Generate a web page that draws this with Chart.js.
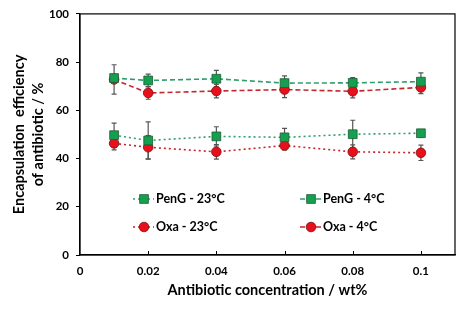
<!DOCTYPE html>
<html>
<head>
<meta charset="utf-8">
<script src="https://cdn.jsdelivr.net/npm/chart.js@4"></script>
<style>
  html, body { margin: 0; padding: 0; background: #fff; }
</style>
</head>
<body>
<canvas id="chart" width="474" height="335"></canvas>
<script>
// 데이터
const concentrations = [0.01, 0.02, 0.04, 0.06, 0.08, 0.1];
const penG23 = [49.7, 47.5, 49.2, 48.8, 50.1, 50.5];
const penG23Err = [5.0, 7.7, 4.0, 3.7, 5.8, 1.5];
const penG4 = [73.4, 72.4, 73.1, 71.3, 71.4, 71.9];
const penG4Err = [1.5, 2.6, 3.5, 3.0, 2.2, 3.6];
const oxa23 = [46.3, 44.7, 42.8, 45.4, 42.8, 42.4];
const oxa23Err = [2.7, 4.8, 3.0, 1.8, 2.9, 3.2];
const oxa4 = [72.8, 67.2, 68.0, 68.6, 67.9, 69.5];
const oxa4Err = [6.1, 2.6, 2.8, 3.3, 2.7, 2.6];
const seriesLabels = ['PenG - 23°C', 'PenG - 4°C', 'Oxa - 23°C', 'Oxa - 4°C'];
const xTicks = [0.02, 0.04, 0.06, 0.08, 0.1];

const FONT = 'Lato, "Open Sans", sans-serif';
const GREEN_FILL = '#14a04f';
const GREEN_EDGE = '#1d5c36';
const GREEN_LINE = '#2f9e6c';
const RED_FILL = '#e8111b';
const RED_EDGE = '#7c0a0a';
const RED_LINE = '#c4262c';

function toPoints(values) {
  return concentrations.map((x, i) => ({ x: x, y: values[i] }));
}

function makeSet(label, values, errs, isPenG, dotted) {
  return {
    label: label,
    data: toPoints(values),
    errors: errs,
    borderColor: isPenG ? GREEN_LINE : RED_LINE,
    borderWidth: 1.6,
    borderDash: dotted ? [2, 3] : [5, 3],
    pointStyle: isPenG ? 'rect' : 'circle',
    pointRadius: isPenG ? 6.2 : 4.8,
    pointBackgroundColor: isPenG ? GREEN_FILL : RED_FILL,
    pointBorderColor: isPenG ? GREEN_EDGE : RED_EDGE,
    pointBorderWidth: 0.8,
    fill: false,
    tension: 0
  };
}

// 에러바 그리기
const errorBars = {
  id: 'errorBars',
  beforeDatasetsDraw(chart) {
    const ctx = chart.ctx;
    const xs = chart.scales.x, ys = chart.scales.y;
    ctx.save();
    ctx.strokeStyle = '#555';
    ctx.lineWidth = 1.2;
    chart.data.datasets.forEach(ds => {
      ds.data.forEach((p, i) => {
        const e = ds.errors[i];
        const px = xs.getPixelForValue(p.x);
        const top = ys.getPixelForValue(p.y + e);
        const bot = ys.getPixelForValue(p.y - e);
        ctx.beginPath();
        ctx.moveTo(px, top); ctx.lineTo(px, bot);
        ctx.moveTo(px - 2.5, top); ctx.lineTo(px + 2.5, top);
        ctx.moveTo(px - 2.5, bot); ctx.lineTo(px + 2.5, bot);
        ctx.stroke();
      });
    });
    ctx.restore();
  }
};

// 테두리 상자
const frameBox = {
  id: 'frameBox',
  afterDatasetsDraw(chart) {
    const a = chart.chartArea;
    chart.ctx.save();
    chart.ctx.strokeStyle = '#000';
    chart.ctx.lineWidth = 1.2;
    chart.ctx.strokeRect(a.left, a.top, a.right - a.left, a.bottom - a.top);
    chart.ctx.restore();
  }
};

// 안쪽 x축 눈금 + 범례
const extras = {
  id: 'extras',
  afterDraw(chart) {
    const ctx = chart.ctx;
    const xs = chart.scales.x;
    const area = chart.chartArea;
    ctx.save();
    ctx.strokeStyle = '#000';
    ctx.lineWidth = 1;
    xTicks.forEach(v => {
      const px = Math.round(xs.getPixelForValue(v)) + 0.5;
      ctx.beginPath();
      ctx.moveTo(px, area.bottom);
      ctx.lineTo(px, area.bottom - 4);
      ctx.stroke();
    });

    // 범례
    const spots = [
      { x: 133, y: 199 }, { x: 300, y: 199 },
      { x: 133, y: 227 }, { x: 300, y: 227 }
    ];
    chart.data.datasets.forEach((ds, i) => {
      const s = spots[i];
      ctx.strokeStyle = ds.borderColor;
      ctx.lineWidth = 1.6;
      ctx.setLineDash(ds.borderDash);
      ctx.beginPath();
      ctx.moveTo(s.x, s.y);
      ctx.lineTo(s.x + 21, s.y);
      ctx.stroke();
      ctx.setLineDash([]);
      ctx.fillStyle = ds.pointBackgroundColor;
      ctx.strokeStyle = ds.pointBorderColor;
      ctx.lineWidth = 0.8;
      Chart.helpers.drawPoint(ctx, {
        pointStyle: ds.pointStyle,
        radius: ds.pointRadius,
        borderWidth: 0.8
      }, s.x + 11, s.y);
      ctx.fillStyle = '#000';
      ctx.font = 'bold 12.5px ' + FONT;
      ctx.textBaseline = 'middle';
      ctx.textAlign = 'left';
      ctx.fillText(ds.label, s.x + 23, s.y);
    });
    ctx.restore();
  }
};

const ctx = document.getElementById('chart').getContext('2d');
const chart = new Chart(ctx, {
  type: 'line',
  data: {
    datasets: [
      makeSet(seriesLabels[0], penG23, penG23Err, true, true),
      makeSet(seriesLabels[1], penG4, penG4Err, true, false),
      makeSet(seriesLabels[2], oxa23, oxa23Err, false, true),
      makeSet(seriesLabels[3], oxa4, oxa4Err, false, false)
    ]
  },
  options: {
    responsive: false,
    animation: false,
    layout: { padding: { left: 0, top: 11, right: 19, bottom: 36 } },
    plugins: {
      legend: { display: false },
      tooltip: { enabled: false }
    },
    scales: {
      x: {
        type: 'linear',
        min: 0,
        max: 0.11,
        border: { display: true, color: '#000', width: 1.2 },
        grid: { display: true, drawOnChartArea: false, drawTicks: false },
        ticks: {
          stepSize: 0.02,
          includeBounds: false,
          padding: 9,
          color: '#000',
          font: { family: FONT, size: 11.5, weight: 'bold' },
          callback: v => String(Number(v.toFixed(2)))
        },
        title: {
          display: true,
          text: 'Antibiotic concentration / wt%',
          color: '#000',
          font: { family: FONT, size: 14.5, weight: 'bold' },
          padding: { top: 3, bottom: 0 }
        },
        afterFit(scale) { scale.height = 44; }
      },
      y: {
        min: 0,
        max: 100,
        border: { display: true, color: '#000', width: 1.2 },
        grid: { display: true, drawOnChartArea: false, tickLength: 4, color: '#000' },
        ticks: {
          stepSize: 20,
          padding: 7,
          color: '#000',
          font: { family: FONT, size: 11.5, weight: 'bold' }
        },
        title: {
          display: true,
          text: ['Encapsulation  efficiency', 'of antibiotic / %'],
          color: '#000',
          font: { family: FONT, size: 14.5, weight: 'bold', lineHeight: 1.3 },
          padding: { top: 10, bottom: 0 }
        },
        afterFit(scale) { scale.width = 80; }
      }
    }
  },
  plugins: [errorBars, frameBox, extras]
});
</script>
</body>
</html>
